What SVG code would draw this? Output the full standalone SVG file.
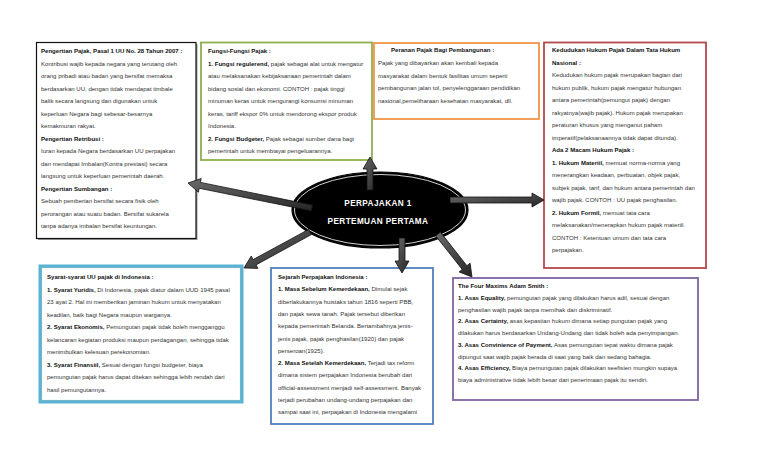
<svg xmlns="http://www.w3.org/2000/svg" width="768" height="466" viewBox="0 0 768 466">
<style>
text{font-family:"Liberation Sans",Arial,sans-serif;font-size:6.05px;fill:#333}
.b{font-weight:bold;fill:#111}
.box{fill:#fff}
.arr{fill:url(#ag);stroke:#111;stroke-width:0.8;stroke-linejoin:round}
.title{font-size:8.2px;font-weight:bold;fill:#fff;letter-spacing:0.4px;text-anchor:middle}
</style>
<defs>
<linearGradient id="ag" x1="0" y1="0" x2="1" y2="1">
<stop offset="0" stop-color="#6a6a6a"/>
<stop offset="1" stop-color="#262626"/>
</linearGradient>
</defs>
<rect width="768" height="466" fill="#fff"/>

<g id="box-pengertian">
<rect x="38" y="44" width="159.5" height="196" fill="#999"/>
<rect class="box" x="36.5" y="42.5" width="159.5" height="196" stroke="#111" stroke-width="1.2"/>
<text class="b" x="41" y="53">Pengertian Pajak, Pasal 1 UU No. 28 Tahun 2007 :</text>
<text x="41" y="65.5">Kontribusi wajib kepada negara yang terutang oleh</text>
<text x="41" y="78">orang pribadi atau badan yang bersifat memaksa</text>
<text x="41" y="90.5">berdasarkan UU, dengan tidak mendapat timbale</text>
<text x="41" y="103">balik secara langsung dan digunakan untuk</text>
<text x="41" y="115.5">keperluan Negara bagi sebesar-besarnya</text>
<text x="41" y="128">kemakmuran rakyat.</text>
<text class="b" x="41" y="140.5">Pengertian Retribusi :</text>
<text x="41" y="153">Iuran kepada Negara berdasarkan UU perpajakan</text>
<text x="41" y="165.5">dan mendapat Imbalan(Kontra prestasi) secara</text>
<text x="41" y="178">langsung untuk keperluan pemerintah daerah.</text>
<text class="b" x="41" y="190.5">Pengertian Sumbangan :</text>
<text x="41" y="203">Sebuah pemberian bersifat secara fisik oleh</text>
<text x="41" y="215.5">perorangan atau suatu badan. Bersifat sukarela</text>
<text x="41" y="228">tanpa adanya imbalan bersifat keuntungan.</text>
</g>

<g id="box-fungsi">
<rect class="box" x="201" y="42.5" width="171" height="117.5" stroke="#8db04e" stroke-width="1.8"/>
<text class="b" x="208" y="53">Fungsi-Fungsi Pajak :</text>
<text x="208" y="65.5"><tspan class="b">1. Fungsi regulerend,</tspan> pajak sebagai alat untuk mengatur</text>
<text x="208" y="78">atau melaksanakan kebijaksanaan pemerintah dalam</text>
<text x="208" y="90.5">bidang sosial dan ekonomi. CONTOH : pajak tinggi</text>
<text x="208" y="103">minuman keras untuk mengurangi konsumsi minuman</text>
<text x="208" y="115.5">keras, tariff ekspor 0% untuk mendorong ekspor produk</text>
<text x="208" y="128">Indonesia.</text>
<text x="208" y="140.5"><tspan class="b">2. Fungsi Budgeter,</tspan> Pajak sebagai sumber dana bagi</text>
<text x="208" y="153">pemerintah untuk membiayai pengeluarannya.</text>
</g>

<g id="box-peranan">
<rect class="box" x="374" y="43" width="165" height="76" stroke="#f0954a" stroke-width="1.8"/>
<text class="b" x="391" y="52">Peranan Pajak Bagi Pembangunan :</text>
<text x="378" y="65">Pajak yang dibayarkan akan kembali kepada</text>
<text x="378" y="77.5">masyarakat dalam bentuk fasilitas umum seperti</text>
<text x="378" y="90">pembangunan jalan tol, penyelenggaraan pendidikan</text>
<text x="378" y="103">nasional,pemeliharaan kesehatan masyarakat, dll.</text>
</g>

<g id="box-kedudukan">
<rect class="box" x="544" y="42.5" width="162" height="225.5" stroke="#b5484a" stroke-width="1.8"/>
<text class="b" x="552" y="52">Kedudukan Hukum Pajak Dalam Tata Hukum</text>
<text class="b" x="552" y="64.5">Nasional :</text>
<text x="552" y="77">Kedudukan hukum pajak merupakan bagian dari</text>
<text x="552" y="89.5">hukum publik, hukum pajak mengatur hubungan</text>
<text x="552" y="102">antara pemerintah(pemungut pajak) dengan</text>
<text x="552" y="114.5">rakyatnya(wajib pajak). Hukum pajak merupakan</text>
<text x="552" y="127">peraturan khusus yang menganut paham</text>
<text x="552" y="139.5">imperatif(pelaksanaannya tidak dapat ditunda).</text>
<text class="b" x="552" y="152">Ada 2 Macam Hukum Pajak :</text>
<text x="552" y="164.5"><tspan class="b">1. Hukum Materiil,</tspan> memuat norma-norma yang</text>
<text x="552" y="177">menerangkan keadaan, perbuatan, objek pajak,</text>
<text x="552" y="189.5">subjek pajak, tarif, dan hukum antara pemerintah dan</text>
<text x="552" y="202">wajib pajak. CONTOH : UU pajak penghasilan.</text>
<text x="552" y="214.5"><tspan class="b">2. Hukum Formil,</tspan> memuat tata cara</text>
<text x="552" y="227">melaksanakan/menerapkan hukum pajak materiil.</text>
<text x="552" y="239.5">CONTOH : Ketentuan umum dan tata cara</text>
<text x="552" y="252">perpajakan.</text>
</g>

<g id="box-syarat">
<rect class="box" x="40" y="266" width="202" height="136" stroke="#5ab3d3" stroke-width="3"/>
<rect x="41.8" y="267.8" width="198.4" height="132.4" fill="none" stroke="#2f8aa8" stroke-width="0.5"/>
<text class="b" x="47" y="279">Syarat-syarat UU pajak di Indonesia :</text>
<text x="47" y="291.5"><tspan class="b">1. Syarat Yuridis,</tspan> Di Indonesia, pajak diatur dalam UUD 1945 pasal</text>
<text x="47" y="304">23 ayat 2. Hal ini memberikan jaminan hukum untuk menyatakan</text>
<text x="47" y="316.7">keadilan, baik bagi Negara maupun warganya.</text>
<text x="47" y="329.2"><tspan class="b">2. Syarat Ekonomis,</tspan> Pemungutan pajak tidak boleh mengganggu</text>
<text x="47" y="341.8">kelancaran kegiatan produksi maupun perdagangan, sehingga tidak</text>
<text x="47" y="354.3">menimbulkan kelesuan perekonomian.</text>
<text x="47" y="366.9"><tspan class="b">3. Syarat Finansiil,</tspan> Sesuai dengan fungsi budgeter, biaya</text>
<text x="47" y="379.4">pemungutan pajak harus dapat ditekan sehingga lebih rendah dari</text>
<text x="47" y="392">hasil pemungutannya.</text>
</g>

<g id="box-sejarah">
<rect class="box" x="271" y="268" width="162" height="156" stroke="#4f7fbd" stroke-width="1.8"/>
<text class="b" x="278" y="279">Sejarah Perpajakan Indonesia :</text>
<text x="278" y="291.3"><tspan class="b">1. Masa Sebelum Kemerdekaan,</tspan> Dimulai sejak</text>
<text x="278" y="303.6">diberlakukannya huistaks tahun 1816 seperti PBB,</text>
<text x="278" y="315.9">dan pajak sewa tanah. Pajak tersebut diberikan</text>
<text x="278" y="328.2">kepada pemerintah Belanda. Bertambahnya jenis-</text>
<text x="278" y="340.5">jenis pajak, pajak penghasilan(1920) dan pajak</text>
<text x="278" y="352.8">perseroan(1925).</text>
<text x="278" y="365.1"><tspan class="b">2. Masa Setelah Kemerdekaan,</tspan> Terjadi tax reform</text>
<text x="278" y="377.4">dimana sistem perpajakan Indonesia berubah dari</text>
<text x="278" y="389.7">official-assessment menjadi self-assessment. Banyak</text>
<text x="278" y="402">terjadi perubahan undang-undang perpajakan dan</text>
<text x="278" y="414.3">sampai saat ini, perpajakan di Indonesia mengalami</text>
</g>

<g id="box-maxims">
<rect class="box" x="453" y="278" width="245" height="122" stroke="#7f63a1" stroke-width="1.8"/>
<text class="b" x="458" y="288">The Four Maxims Adam Smith :</text>
<text x="458" y="299.8"><tspan class="b">1. Asas Equality,</tspan> pemungutan pajak yang dilakukan harus adil, sesuai dengan</text>
<text x="458" y="311.5">penghasilan wajib pajak tanpa memihak dan diskriminatif.</text>
<text x="458" y="323.3"><tspan class="b">2. Asas Certainty,</tspan> asas kepastian hukum dimana setiap pungutan pajak yang</text>
<text x="458" y="335">dilakukan harus berdasarkan Undang-Undang dan tidak boleh ada penyimpangan.</text>
<text x="458" y="346.8"><tspan class="b">3. Asas Convinience of Payment,</tspan> Asas pemungutan tepat waktu dimana pajak</text>
<text x="458" y="358.5">dipungut saat wajib pajak berada di saat yang baik dan sedang bahagia.</text>
<text x="458" y="370.3"><tspan class="b">4. Asas Efficiency,</tspan> Biaya pemungutan pajak dilakukan seefisien mungkin supaya</text>
<text x="458" y="382">biaya administrative tidak lebih besar dari penerimaan pajak itu sendiri.</text>
</g>

<g id="center">
<ellipse cx="380" cy="210" rx="88" ry="38" fill="#000" stroke="#000" stroke-width="1.2"/>
<ellipse cx="380" cy="210" rx="85.5" ry="35.5" fill="none" stroke="#e8e8e8" stroke-width="0.9"/>
<text class="title" x="378" y="206">PERPAJAKAN 1</text>
<text class="title" x="378" y="224">PERTEMUAN PERTAMA</text>
</g>

<g id="connectors">
<polygon class="arr" points="312.6,205.1 200.4,182.4 201.2,178.5 188,183 198.4,192.2 199.2,188.3 311.4,210.9"/>
<polygon class="arr" points="373,190 373,169 377,169 370,157 363,169 367,169 367,190"/>
<polygon class="arr" points="450,203 532,203 532,207 544,200 532,193 532,197 450,197"/>
<polygon class="arr" points="435.7,235.9 462.2,269.4 459.1,271.9 472,277 470.1,263.2 466.9,265.7 440.4,232.1"/>
<polygon class="arr" points="399,238 399,261 395,261 402,273 409,261 405,261 405,238"/>
<polygon class="arr" points="308.6,229.4 253.1,259.6 251.2,256.1 244,268 257.9,268.4 256,264.9 311.4,234.6"/>
</g>
</svg>
